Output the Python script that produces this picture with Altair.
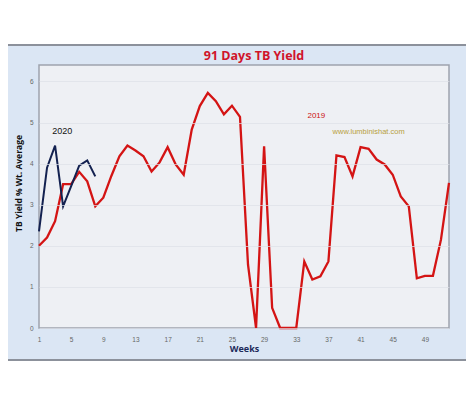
import altair as alt
import pandas as pd

weeks_2019 = list(range(1, 53))
yield_2019 = [2.0, 2.2, 2.6, 3.5, 3.5, 3.8, 3.57, 2.96, 3.17, 3.7,
              4.18, 4.44, 4.32, 4.18, 3.81, 4.03, 4.4, 3.98, 3.73, 4.83,
              5.4, 5.72, 5.52, 5.2, 5.41, 5.14, 1.54, 0.0, 4.42, 0.49,
              0.0, 0.0, 0.0, 1.62, 1.18, 1.26, 1.62, 4.2, 4.16, 3.69,
              4.4, 4.36, 4.1, 3.98, 3.73, 3.2, 2.96, 1.21, 1.27, 1.27,
              2.15, 3.53]
weeks_2020 = list(range(1, 9))
yield_2020 = [2.35, 3.9, 4.44, 2.96, 3.45, 3.95, 4.08, 3.69]

x_ticks = [1, 5, 9, 13, 17, 21, 25, 29, 33, 37, 41, 45, 49]
y_ticks = [0, 1, 2, 3, 4, 5, 6]

label_text = ["2020", "2019", "www.lumbinishat.com"]
label_week = [3.9, 35.5, 42.0]
label_val = [4.8, 5.15, 4.78]
label_size = [9, 8, 7.5]
label_color = ["#111111", "#cc1111", "#b8a040"]

W, H = 410, 263

df19 = pd.DataFrame({"week": weeks_2019, "yield": yield_2019})
df20 = pd.DataFrame({"week": weeks_2020, "yield": yield_2020})
dfl = pd.DataFrame({"text": label_text, "week": label_week, "yield": label_val,
                    "size": label_size, "color": label_color})
one = pd.DataFrame({"a": [0]})

xs = alt.Scale(domain=[1, 52], nice=False, zero=False)
ys = alt.Scale(domain=[0, 6.4], nice=False)

outer = alt.Chart(one).mark_rect(fill="#dbe6f4", stroke="#8c919b", strokeWidth=2).encode(
    x=alt.value(-36), x2=alt.value(431), y=alt.value(-20), y2=alt.value(295))
inner = alt.Chart(one).mark_rect(fill="#eef0f4", stroke="#9ea3ad", strokeWidth=1.5).encode(
    x=alt.value(0), x2=alt.value(W), y=alt.value(0), y2=alt.value(H))

base_x = alt.X("week:Q", scale=xs, title="Weeks",
               axis=alt.Axis(values=x_ticks, grid=False, domain=False, ticks=False,
                             labelOverlap=False, labelFlush=False,
                             labelFontSize=6.5, labelColor="#666666", labelPadding=8,
                             labelFont="Liberation Sans",
                             titleFont="Open Sans", titleFontSize=9, titleFontWeight="bold",
                             titleColor="#1c2a5a", titlePadding=2, zindex=1))
base_y = alt.Y("yield:Q", scale=ys, title="TB Yield % Wt. Average",
               axis=alt.Axis(values=y_ticks, grid=True, gridColor="#dde0e6", gridWidth=0.7,
                             domain=False, ticks=False, labelFlush=False, labelOverlap=False,
                             labelFontSize=6.5, labelColor="#666666", labelPadding=6,
                             labelFont="Liberation Sans",
                             titleFont="Open Sans", titleFontSize=8.5, titleFontWeight="bold",
                             titleColor="#111111", titlePadding=6, titleY=118, zindex=1))

line19 = alt.Chart(df19).mark_line(color="#d41414", strokeWidth=2.3).encode(x=base_x, y=base_y)
line20 = alt.Chart(df20).mark_line(color="#132150", strokeWidth=2).encode(x=base_x, y=base_y)
labels = alt.Chart(dfl).mark_text(font="Liberation Sans", align="center").encode(
    x=base_x, y=base_y, text="text:N",
    size=alt.Size("size:Q", scale=None),
    color=alt.Color("color:N", scale=None))

chart = alt.layer(outer, inner, line19, line20, labels).properties(
    width=W, height=H,
    title=alt.TitleParams("91 Days TB Yield", color="#d0142a", fontSize=12.5, font="Open Sans",
                          fontWeight="bold", dx=10, offset=-18, frame="group"),
    autosize=alt.AutoSizeParams(type="none"),
    padding={"left": 31, "top": 57, "right": 17, "bottom": 61},
).configure_view(stroke=None).configure_axisX(labelOverlap=False)

chart.save("out.html", embed_options={"renderer": "svg", "actions": False})
